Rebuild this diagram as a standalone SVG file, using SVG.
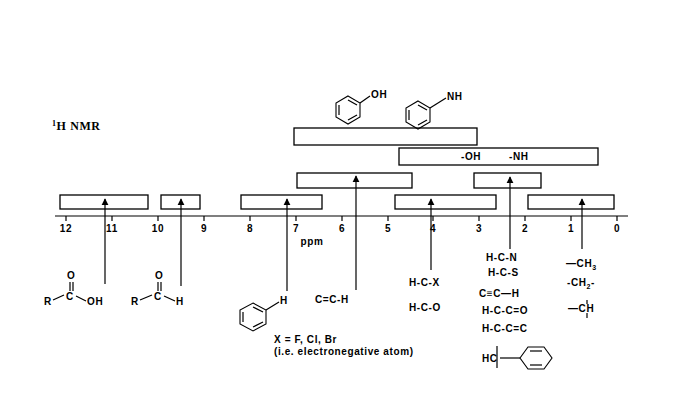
<svg xmlns="http://www.w3.org/2000/svg" width="700" height="402" viewBox="0 0 700 402">
<defs>
<style>
text{font-family:"Liberation Sans",Arial,sans-serif;font-weight:bold;font-size:10px;fill:#000;letter-spacing:0.6px}
.box{fill:#fff;stroke:#000;stroke-width:1.3}
.ln{stroke:#000;stroke-width:1.2;fill:none}
.ar{stroke:#000;stroke-width:1.2;fill:none;marker-end:url(#ah)}
.ring{fill:none;stroke:#000;stroke-width:1.1}
</style>
<marker id="ah" viewBox="0 0 10 10" refX="9" refY="5" markerWidth="6" markerHeight="6" orient="auto"><path d="M0,0 L10,5 L0,10 z" fill="#000"/></marker>
</defs>
<rect width="700" height="402" fill="#fff"/>
<text x="52" y="130" style="font-family:'Liberation Serif',serif;font-size:12px"><tspan font-size="8" dy="-4">1</tspan><tspan dy="4">H NMR</tspan></text>
<g id="axis">
<line class="ln" x1="55" y1="216" x2="628" y2="216"/>
<g class="ln">
<line x1="66" y1="216" x2="66" y2="221"/><line x1="112" y1="216" x2="112" y2="221"/><line x1="158" y1="216" x2="158" y2="221"/><line x1="204" y1="216" x2="204" y2="221"/><line x1="250" y1="216" x2="250" y2="221"/><line x1="296" y1="216" x2="296" y2="221"/><line x1="342" y1="216" x2="342" y2="221"/><line x1="388" y1="216" x2="388" y2="221"/><line x1="433" y1="216" x2="433" y2="221"/><line x1="479" y1="216" x2="479" y2="221"/><line x1="525" y1="216" x2="525" y2="221"/><line x1="571" y1="216" x2="571" y2="221"/><line x1="617" y1="216" x2="617" y2="221"/>
</g>
<g text-anchor="middle">
<text x="66" y="232">12</text><text x="112" y="232">11</text><text x="158" y="232">10</text><text x="204" y="232">9</text><text x="250" y="232">8</text><text x="296" y="232">7</text><text x="342" y="232">6</text><text x="388" y="232">5</text><text x="433" y="232">4</text><text x="479" y="232">3</text><text x="525" y="232">2</text><text x="571" y="232">1</text><text x="617" y="232">0</text>
<text x="312" y="245">ppm</text>
</g>
</g>
<g id="boxes">
<rect class="box" x="60" y="195" width="88" height="14"/>
<rect class="box" x="161" y="195" width="39" height="14"/>
<rect class="box" x="241" y="195" width="81" height="14"/>
<rect class="box" x="395" y="195" width="101" height="14"/>
<rect class="box" x="528" y="195" width="86" height="14"/>
<rect class="box" x="297" y="173" width="115" height="15"/>
<rect class="box" x="474" y="173" width="67" height="15"/>
<rect class="box" x="399" y="148" width="199" height="17"/>
<text x="461" y="160">-OH</text><text x="509" y="160">-NH</text>
<rect class="box" x="294" y="128" width="183" height="17"/>
</g>
<g id="connectors">
<line class="ar" x1="105" y1="284" x2="105" y2="199"/>
<line class="ar" x1="181" y1="286" x2="181" y2="199"/>
<line class="ar" x1="287" y1="291" x2="287" y2="199"/>
<line class="ar" x1="356" y1="290" x2="356" y2="176"/>
<line class="ar" x1="431" y1="270" x2="431" y2="199"/>
<line class="ar" x1="510" y1="249" x2="510" y2="177"/>
<line class="ar" x1="582" y1="249" x2="582" y2="199"/>
</g>
<g id="phenol">
<polygon class="ring" points="348,96 360,103 360,117 348,124 336,117 336,103"/>
<polyline class="ln" points="339,105 339,115"/><polyline class="ln" points="348,120 357,115"/><polyline class="ln" points="348,100 357,105"/>
<line class="ln" x1="360" y1="103" x2="370" y2="96"/>
<text x="371" y="98">OH</text>
</g>
<g id="aniline">
<polygon class="ring" points="418,101 430,108 430,122 418,129 406,122 406,108"/>
<polyline class="ln" points="409,110 409,120"/><polyline class="ln" points="418,125 427,120"/><polyline class="ln" points="418,105 427,110"/>
<line class="ln" x1="430" y1="108" x2="446" y2="98"/>
<text x="447" y="100">NH</text>
</g>
<g id="acid">
<text x="44" y="305">R</text><line class="ln" x1="53" y1="300" x2="64" y2="295"/>
<text x="66" y="300">C</text><line class="ln" x1="70" y1="282" x2="70" y2="291"/><line class="ln" x1="73" y1="282" x2="73" y2="291"/>
<text x="67" y="279">O</text><line class="ln" x1="76" y1="296" x2="86" y2="301"/>
<text x="87" y="305">OH</text>
</g>
<g id="aldehyde">
<text x="131" y="305">R</text><line class="ln" x1="140" y1="300" x2="152" y2="295"/>
<text x="154" y="300">C</text><line class="ln" x1="158" y1="282" x2="158" y2="291"/><line class="ln" x1="161" y1="282" x2="161" y2="291"/>
<text x="155" y="279">O</text><line class="ln" x1="164" y1="296" x2="175" y2="301"/>
<text x="176" y="305">H</text>
</g>
<g id="aromatic">
<polygon class="ring" points="253,303 266,310 266,324 253,331 240,324 240,310"/>
<polyline class="ln" points="243,312 243,322"/><polyline class="ln" points="253,327 263,322"/><polyline class="ln" points="253,307 263,312"/>
<line class="ln" x1="266" y1="310" x2="279" y2="302"/>
<text x="280" y="304">H</text>
</g>
<g id="alkene"><text x="315" y="303">C=C-H</text></g>
<g id="halide"><text x="409" y="286">H-C-X</text><text x="409" y="311">H-C-O</text>
<text x="274" y="343">X = F, Cl, Br</text><text x="274" y="355">(i.e. electronegative atom)</text></g>
<g id="mid">
<text x="486" y="261">H-C-N</text><text x="488" y="276">H-C-S</text>
<text x="479" y="297">C≡C—H</text>
<text x="482" y="314">H-C-C=O</text><text x="482" y="332">H-C-C=C</text>
<text x="482" y="362">HC</text>
<line class="ln" x1="497" y1="346" x2="497" y2="368"/><line class="ln" x1="500" y1="358" x2="520" y2="358"/>
<polygon class="ring" points="520,358 528,347 544,347 552,358 544,369 528,369"/>
<polyline class="ln" points="530,351 542,351"/><polyline class="ln" points="530,365 542,365"/>
</g>
<g id="alkyl">
<text x="566" y="267">—CH<tspan font-size="7" dy="3">3</tspan></text>
<text x="567" y="286">-CH<tspan font-size="7" dy="3">2</tspan><tspan dy="-3">-</tspan></text>
<text x="568" y="312">—CH</text>
<line class="ln" x1="587" y1="300" x2="587" y2="304"/><line class="ln" x1="587" y1="313" x2="587" y2="318"/>
</g>
</svg>
